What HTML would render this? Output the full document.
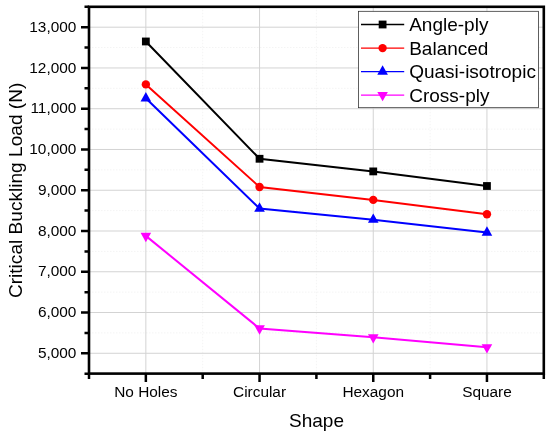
<!DOCTYPE html>
<html><head><meta charset="utf-8"><title>Critical Buckling Load vs Shape</title>
<style>html,body{margin:0;padding:0;background:#fff}svg{display:block}text{font-family:"Liberation Sans",Arial,sans-serif;fill:#000}</style></head><body>
<svg width="550" height="439" viewBox="0 0 550 439">
<rect width="550" height="439" fill="#fff"/>
<path d="M89.0 332.90H543.8M89.0 292.14H543.8M89.0 251.38H543.8M89.0 210.62H543.8M89.0 169.86H543.8M89.0 129.10H543.8M89.0 88.34H543.8M89.0 47.58H543.8M202.70 6.8V373.6M316.40 6.8V373.6M430.10 6.8V373.6" stroke="#f4f4f4" stroke-width="1" stroke-dasharray="1.5 1.5" fill="none"/>
<path d="M89.0 353.28H543.8M89.0 312.52H543.8M89.0 271.76H543.8M89.0 231.00H543.8M89.0 190.24H543.8M89.0 149.48H543.8M89.0 108.72H543.8M89.0 67.96H543.8M89.0 27.20H543.8M145.85 6.8V373.6M259.55 6.8V373.6M373.25 6.8V373.6M486.95 6.8V373.6" stroke="#d3d3d3" stroke-width="1" fill="none"/>
<polyline points="145.85,41.47 259.55,158.77 373.25,171.41 486.95,186.00" fill="none" stroke="#000000" stroke-width="2"/>
<rect x="141.95" y="37.57" width="7.80" height="7.80" fill="#000000"/>
<rect x="255.65" y="154.87" width="7.80" height="7.80" fill="#000000"/>
<rect x="369.35" y="167.51" width="7.80" height="7.80" fill="#000000"/>
<rect x="483.05" y="182.10" width="7.80" height="7.80" fill="#000000"/>
<polyline points="145.85,84.39 259.55,186.98 373.25,199.90 486.95,214.21" fill="none" stroke="#ff0000" stroke-width="2"/>
<circle cx="145.85" cy="84.39" r="4.20" fill="#ff0000"/>
<circle cx="259.55" cy="186.98" r="4.20" fill="#ff0000"/>
<circle cx="373.25" cy="199.90" r="4.20" fill="#ff0000"/>
<circle cx="486.95" cy="214.21" r="4.20" fill="#ff0000"/>
<polyline points="145.85,98.33 259.55,208.58 373.25,219.71 486.95,232.55" fill="none" stroke="#0000ff" stroke-width="2"/>
<polygon points="140.55,101.46 151.15,101.46 145.85,92.06" fill="#0000ff"/>
<polygon points="254.25,211.72 264.85,211.72 259.55,202.32" fill="#0000ff"/>
<polygon points="367.95,222.84 378.55,222.84 373.25,213.44" fill="#0000ff"/>
<polygon points="481.65,235.68 492.25,235.68 486.95,226.28" fill="#0000ff"/>
<polyline points="145.85,235.89 259.55,328.50 373.25,337.26 486.95,347.29" fill="none" stroke="#ff00ff" stroke-width="2"/>
<polygon points="140.55,232.76 151.15,232.76 145.85,242.16" fill="#ff00ff"/>
<polygon points="254.25,325.36 264.85,325.36 259.55,334.76" fill="#ff00ff"/>
<polygon points="367.95,334.13 378.55,334.13 373.25,343.53" fill="#ff00ff"/>
<polygon points="481.65,344.15 492.25,344.15 486.95,353.55" fill="#ff00ff"/>
<path d="M89.0 353.28H81M89.0 312.52H81M89.0 271.76H81M89.0 231.00H81M89.0 190.24H81M89.0 149.48H81M89.0 108.72H81M89.0 67.96H81M89.0 27.20H81M89.0 373.66H84.5M89.0 332.90H84.5M89.0 292.14H84.5M89.0 251.38H84.5M89.0 210.62H84.5M89.0 169.86H84.5M89.0 129.10H84.5M89.0 88.34H84.5M89.0 47.58H84.5M89.0 6.82H84.5M145.85 373.6V382M259.55 373.6V382M373.25 373.6V382M486.95 373.6V382M89.00 373.6V378.9M202.70 373.6V378.9M316.40 373.6V378.9M430.10 373.6V378.9M543.80 373.6V378.9" stroke="#000" stroke-width="2.5" fill="none" stroke-linecap="butt"/>
<rect x="89.0" y="6.8" width="454.80" height="366.80" fill="none" stroke="#000" stroke-width="2.6"/>
<text x="76.4" y="357.88" font-size="15.4" text-anchor="end">5,000</text>
<text x="76.4" y="317.12" font-size="15.4" text-anchor="end">6,000</text>
<text x="76.4" y="276.36" font-size="15.4" text-anchor="end">7,000</text>
<text x="76.4" y="235.60" font-size="15.4" text-anchor="end">8,000</text>
<text x="76.4" y="194.84" font-size="15.4" text-anchor="end">9,000</text>
<text x="76.4" y="154.08" font-size="15.4" text-anchor="end">10,000</text>
<text x="76.4" y="113.32" font-size="15.4" text-anchor="end">11,000</text>
<text x="76.4" y="72.56" font-size="15.4" text-anchor="end">12,000</text>
<text x="76.4" y="31.80" font-size="15.4" text-anchor="end">13,000</text>
<text x="145.85" y="397.3" font-size="15.4" text-anchor="middle">No Holes</text>
<text x="259.55" y="397.3" font-size="15.4" text-anchor="middle">Circular</text>
<text x="373.25" y="397.3" font-size="15.4" text-anchor="middle">Hexagon</text>
<text x="486.95" y="397.3" font-size="15.4" text-anchor="middle">Square</text>
<text x="316.5" y="426.8" font-size="19" text-anchor="middle">Shape</text>
<text transform="translate(22 190.4) rotate(-90)" font-size="19.1" text-anchor="middle">Critical Buckling Load (N)</text>
<rect x="358.6" y="11.3" width="179.9" height="96.4" fill="#fff" stroke="#2a2a2a" stroke-width="0.75"/>
<path d="M361 24.5H404.2" stroke="#000000" stroke-width="1.4" fill="none"/>
<rect x="378.70" y="20.60" width="7.80" height="7.80" fill="#000000"/>
<text x="409.2" y="30.90" font-size="19">Angle-ply</text>
<path d="M361 48.1H404.2" stroke="#ff0000" stroke-width="1.4" fill="none"/>
<circle cx="382.60" cy="48.10" r="4.20" fill="#ff0000"/>
<text x="409.2" y="54.50" font-size="19">Balanced</text>
<path d="M361 71.6H404.2" stroke="#0000ff" stroke-width="1.4" fill="none"/>
<polygon points="377.30,74.73 387.90,74.73 382.60,65.33" fill="#0000ff"/>
<text x="409.2" y="78.00" font-size="19">Quasi-isotropic</text>
<path d="M361 95.1H404.2" stroke="#ff00ff" stroke-width="1.4" fill="none"/>
<polygon points="377.30,91.97 387.90,91.97 382.60,101.37" fill="#ff00ff"/>
<text x="409.2" y="101.50" font-size="19">Cross-ply</text>
</svg></body></html>
